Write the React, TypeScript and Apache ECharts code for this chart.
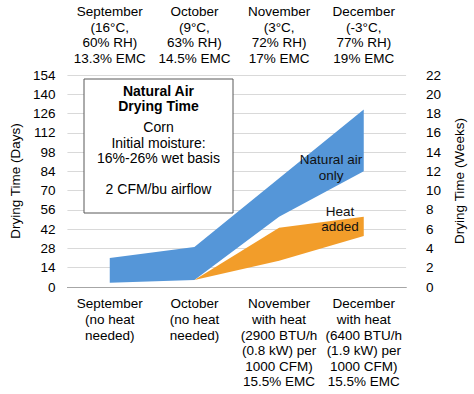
import React, { useEffect, useRef } from "react";
import * as echarts from "echarts";

const bottomLabels = [
  "September\n(no heat\nneeded)",
  "October\n(no heat\nneeded)",
  "November\nwith heat\n(2900 BTU/h\n(0.8 kW) per\n1000 CFM)\n15.5% EMC",
  "December\nwith heat\n(6400 BTU/h\n(1.9 kW) per\n1000 CFM)\n15.5% EMC",
];
const topLabels = [
  "September\n(16°C,\n60% RH)\n13.3% EMC",
  "October\n(9°C,\n63% RH)\n14.5% EMC",
  "November\n(3°C,\n72% RH)\n17% EMC",
  "December\n(-3°C,\n77% RH)\n19% EMC",
];
// Drying time in days
const naturalAirMin = [3, 5, 51, 84];
const naturalAirMax = [21, 29, 79, 129];
const heatMin: (number | string)[] = ["-", 5, 19, 37];
const heatMax: (number | string)[] = ["-", 5, 43, 51];

const FONT = "'Liberation Sans', Arial, sans-serif";

export default function App() {
  const ref = useRef<HTMLDivElement>(null);
  useEffect(() => {
    if (!ref.current) return;
    const chart = echarts.init(ref.current, undefined, { renderer: "svg" });
    const naturalBand = naturalAirMax.map((v, i) => v - naturalAirMin[i]);
    const heatBand = heatMax.map((v, i) =>
      typeof v === "number" && typeof heatMin[i] === "number" ? v - (heatMin[i] as number) : "-"
    );
    const txt = { fontFamily: FONT, color: "#000", fontSize: 13.5 };
    chart.setOption({
      animation: false,
      textStyle: { fontFamily: FONT },
      grid: { left: 62, right: 55, top: 75, bottom: 107, containLabel: false },
      xAxis: [
        {
          type: "category",
          data: bottomLabels,
          position: "bottom",
          boundaryGap: true,
          axisLine: { lineStyle: { color: "#a6a6a6" } },
          axisTick: { length: 4, lineStyle: { color: "#a6a6a6" } },
          axisLabel: { ...txt, lineHeight: 15.6, margin: 9, interval: 0 },
        },
        {
          type: "category",
          data: topLabels,
          position: "top",
          boundaryGap: true,
          axisLine: { lineStyle: { color: "#a6a6a6" } },
          axisTick: { length: 4, lineStyle: { color: "#a6a6a6" } },
          axisLabel: { ...txt, lineHeight: 15.6, margin: 9, interval: 0 },
        },
      ],
      yAxis: [
        {
          type: "value",
          min: 0,
          max: 154,
          interval: 14,
          name: "Drying Time (Days)",
          nameLocation: "middle",
          nameRotate: 90,
          nameGap: 37,
          nameTextStyle: { ...txt },
          axisLine: { show: false },
          axisTick: { show: false },
          axisLabel: { ...txt, margin: 12 },
          splitLine: { lineStyle: { color: "#d9d9d9" } },
        },
        {
          type: "value",
          min: 0,
          max: 22,
          interval: 2,
          position: "right",
          name: "Drying Time (Weeks)",
          nameLocation: "middle",
          nameRotate: 90,
          nameGap: 31,
          nameTextStyle: { ...txt },
          axisLine: { show: false },
          axisTick: { show: false },
          axisLabel: { ...txt, margin: 20 },
          splitLine: { show: false },
        },
      ],
      series: [
        {
          type: "line",
          stack: "natural",
          data: naturalAirMin,
          symbol: "none",
          lineStyle: { width: 0, opacity: 0 },
          areaStyle: { opacity: 0 },
          silent: true,
          z: 2,
        },
        {
          name: "Natural air only",
          type: "line",
          stack: "natural",
          data: naturalBand,
          symbol: "none",
          lineStyle: { width: 0, opacity: 0 },
          areaStyle: { color: "#5596d8", opacity: 1 },
          z: 2,
        },
        {
          type: "line",
          stack: "heat",
          data: heatMin,
          symbol: "none",
          lineStyle: { width: 0, opacity: 0 },
          areaStyle: { opacity: 0 },
          silent: true,
          z: 3,
        },
        {
          name: "Heat added",
          type: "line",
          stack: "heat",
          data: heatBand,
          symbol: "none",
          lineStyle: { width: 0, opacity: 0 },
          areaStyle: { color: "#f29d2a", opacity: 1 },
          z: 3,
        },
      ],
      graphic: [
        {
          type: "rect",
          shape: { x: 84, y: 79, width: 149, height: 134 },
          style: { fill: "#fff", stroke: "#595959", lineWidth: 1 },
          z: 10,
        },
        ...[
          ["Natural Air", 90.7, true],
          ["Drying Time", 106, true],
          ["Corn", 126.7, false],
          ["Initial moisture:", 142.7, false],
          ["16%-26% wet basis", 158.3, false],
          ["2 CFM/bu airflow", 189.3, false],
        ].map(([t, y, b]) => ({
          type: "text",
          x: 158.5,
          y: y as number,
          z: 11,
          style: {
            text: t as string,
            fill: "#000",
            font: `${b ? "bold " : ""}14px ${FONT}`,
            textAlign: "center",
            textVerticalAlign: "middle",
          },
        })),
        ...[
          ["Natural air", 331, 159.3],
          ["only", 331, 175],
          ["Heat", 340, 211.7],
          ["added", 340, 226.7],
        ].map(([t, x, y]) => ({
          type: "text",
          x: x as number,
          y: y as number,
          z: 11,
          style: {
            text: t as string,
            fill: "#111",
            font: `13.5px ${FONT}`,
            textAlign: "center",
            textVerticalAlign: "middle",
          },
        })),
      ],
    });
    return () => chart.dispose();
  }, []);
  return (
    <div
      ref={ref}
      style={{ position: "absolute", left: 0, top: 0, width: 474, height: 394, background: "#fff" }}
    />
  );
}
